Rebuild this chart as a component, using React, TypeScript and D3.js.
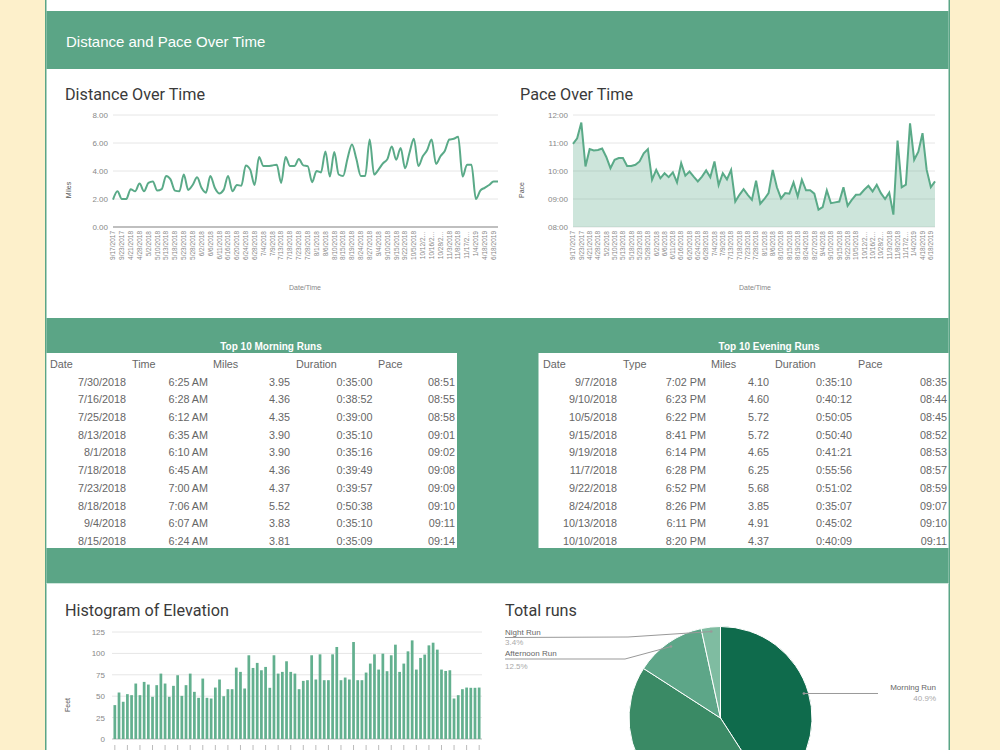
import * as d3 from "d3";

// ---- data ----
const runDates = [
  "9/17/2017", "9/19/2017", "9/23/2017", "10/1/2017", "4/21/2018", "4/24/2018", "4/28/2018", "4/30/2018",
  "5/2/2018", "5/6/2018", "5/10/2018", "5/11/2018", "5/13/2018", "5/16/2018", "5/18/2018", "5/20/2018",
  "5/23/2018", "5/25/2018", "5/28/2018", "5/30/2018", "6/2/2018", "6/4/2018", "6/6/2018", "6/9/2018",
  "6/11/2018", "6/13/2018", "6/16/2018", "6/18/2018", "6/20/2018", "6/22/2018", "6/24/2018", "6/26/2018",
  "6/28/2018", "7/2/2018", "7/4/2018", "7/6/2018", "7/9/2018", "7/11/2018", "7/13/2018", "7/16/2018",
  "7/18/2018", "7/20/2018", "7/23/2018", "7/25/2018", "7/28/2018", "7/30/2018", "8/1/2018", "8/3/2018",
  "8/6/2018", "8/8/2018", "8/10/2018", "8/13/2018", "8/15/2018", "8/18/2018", "8/19/2018", "8/22/2018",
  "8/24/2018", "8/26/2018", "8/27/2018", "9/1/2018", "9/4/2018", "9/7/2018", "9/10/2018", "9/12/2018",
  "9/15/2018", "9/19/2018", "9/22/2018", "9/29/2018", "10/5/2018", "10/10/2018", "10/12/2018", "10/13/2018",
  "10/16/2018", "10/21/2018", "10/28/2018", "10/31/2018", "11/3/2018", "11/7/2018", "11/8/2018", "11/11/2018",
  "11/17/2018", "12/1/2018", "1/4/2019", "3/2/2019", "4/18/2019", "5/20/2019", "6/18/2019", "8/17/2019",
];

const distanceMiles = [
  1.95, 2.55, 2.0, 2.0, 2.7, 2.55, 3.1, 2.55, 3.15, 3.25, 2.6, 2.7, 3.65, 3.4, 2.6, 2.55,
  3.75, 2.65, 3.0, 3.55, 2.8, 2.45, 3.65, 2.8, 2.4, 2.65, 3.65, 2.55, 3.0, 2.95, 4.4, 4.1,
  3.0, 5.0, 4.35, 4.35, 4.4, 4.45, 3.15, 5.0, 4.35, 4.35, 4.85, 4.4, 4.35, 3.2, 4.0, 3.9,
  5.4, 3.6, 5.35, 3.75, 3.65, 4.9, 5.9, 4.85, 3.65, 3.65, 6.25, 3.75, 4.1, 4.55, 4.85, 5.75,
  4.8, 5.65, 4.2, 5.3, 6.3, 4.35, 5.05, 5.5, 6.25, 4.5, 5.05, 5.45, 6.25, 6.3, 6.45, 3.6,
  4.45, 4.45, 2.0, 2.6, 2.8, 3.0, 3.25, 3.25,
];

// minutes per mile
const paceMinutes = [
  10.97, 11.17, 11.73, 10.16, 10.78, 10.73, 10.75, 10.8, 10.5, 10.1, 10.4, 10.46, 10.46, 10.18, 10.18, 10.22,
  10.34, 10.63, 10.78, 9.69, 10.04, 9.74, 9.92, 9.78, 9.95, 9.59, 10.28, 9.83, 9.98, 9.8, 9.63, 9.8,
  10.02, 9.78, 10.34, 9.5, 9.92, 9.7, 10.04, 8.91, 9.15, 9.35, 9.15, 8.97, 9.65, 8.83, 9.0, 9.21,
  10.04, 9.42, 9.02, 9.21, 9.19, 9.59, 9.09, 9.69, 9.31, 9.31, 9.19, 8.62, 8.71, 9.31, 8.85, 8.88,
  8.91, 9.42, 8.76, 8.97, 9.15, 9.16, 9.33, 9.47, 9.27, 9.51, 9.21, 9.0, 9.23, 8.44, 11.09, 9.42,
  9.51, 11.7, 10.4, 10.69, 11.35, 10.04, 9.42, 9.63,
];

const elevationFeet = [
  39.6, 54.3, 43.5, 52.4, 51.2, 64.8, 51.2, 66.7, 63.6, 49.3, 62.9, 76.4, 64.8, 49.3, 62.1, 74.5,
  50.4, 62.9, 76.4, 55.1, 48.1, 70.6, 48.1, 47.3, 60.1, 69.5, 50.0, 58.2, 58.2, 83.4, 78.4, 59.0,
  97.8, 83.0, 88.9, 80.3, 84.2, 59.8, 97.8, 76.4, 78.4, 90.8, 78.4, 76.4, 58.2, 67.9, 68.7, 97.8,
  69.5, 98.9, 68.7, 68.7, 98.9, 107.5, 68.7, 71.8, 69.5, 113.3, 68.7, 68.7, 77.6, 88.1, 98.9, 81.1,
  99.7, 79.2, 97.8, 110.2, 78.4, 88.1, 102.4, 115.2, 81.1, 94.7, 98.6, 109.4, 112.5, 104.4, 81.1, 79.5,
  80.3, 47.3, 51.2, 58.2, 60.1, 59.8, 59.8, 60.1,
];

const distanceTicks = [0, 2, 4, 6, 8];
const paceTicks = [8, 9, 10, 11, 12];
const elevationTicks = [0, 25, 50, 75, 100, 125];

const morningHeader = ["Date", "Time", "Miles", "Duration", "Pace"];
const morningRuns = [
  ["7/30/2018", "6:25 AM", "3.95", "0:35:00", "08:51"],
  ["7/16/2018", "6:28 AM", "4.36", "0:38:52", "08:55"],
  ["7/25/2018", "6:12 AM", "4.35", "0:39:00", "08:58"],
  ["8/13/2018", "6:35 AM", "3.90", "0:35:10", "09:01"],
  ["8/1/2018", "6:10 AM", "3.90", "0:35:16", "09:02"],
  ["7/18/2018", "6:45 AM", "4.36", "0:39:49", "09:08"],
  ["7/23/2018", "7:00 AM", "4.37", "0:39:57", "09:09"],
  ["8/18/2018", "7:06 AM", "5.52", "0:50:38", "09:10"],
  ["9/4/2018", "6:07 AM", "3.83", "0:35:10", "09:11"],
  ["8/15/2018", "6:24 AM", "3.81", "0:35:09", "09:14"],
];

const eveningHeader = ["Date", "Type", "Miles", "Duration", "Pace"];
const eveningRuns = [
  ["9/7/2018", "7:02 PM", "4.10", "0:35:10", "08:35"],
  ["9/10/2018", "6:23 PM", "4.60", "0:40:12", "08:44"],
  ["10/5/2018", "6:22 PM", "5.72", "0:50:05", "08:45"],
  ["9/15/2018", "8:41 PM", "5.72", "0:50:40", "08:52"],
  ["9/19/2018", "6:14 PM", "4.65", "0:41:21", "08:53"],
  ["11/7/2018", "6:28 PM", "6.25", "0:55:56", "08:57"],
  ["9/22/2018", "6:52 PM", "5.68", "0:51:02", "08:59"],
  ["8/24/2018", "8:26 PM", "3.85", "0:35:07", "09:07"],
  ["10/13/2018", "6:11 PM", "4.91", "0:45:02", "09:10"],
  ["10/10/2018", "8:20 PM", "4.37", "0:40:09", "09:11"],
];

const runTypes = ["Morning Run", "Evening Run", "Afternoon Run", "Night Run"];
const runShares = [40.9, 43.2, 12.5, 3.4];
const runColors = ["#0f6b4c", "#3a8a65", "#5da688", "#7fbca1"];

// ---- styling ----
const GREEN = "#5ba586";
const CREAM = "#fdf0cb";
const LINE = "#5aaa88";
const GRID = "#e6e6e6";
const AXIS_TXT = "#888";
const SANS = "'Liberation Sans', Arial, sans-serif";
const TITLE_FONT = "Roboto, 'Noto Sans', sans-serif";

const shortLabel = (s: string) => (s.length > 9 ? s.slice(0, 7) + "…" : s);
const fmtPace = (m: number) => d3.format("02d")(Math.floor(m)) + ":00";

function DateAxis({ x, y0 }: { x: (i: number) => number; y0: number }) {
  return (
    <g fontFamily={SANS} fontSize={6.5} fill={AXIS_TXT}>
      {runDates.map((d, i) =>
        i % 2 === 0 ? (
          <text key={i} transform={`translate(${x(i) + 2.3},${y0}) rotate(-90)`} textAnchor="end">
            {shortLabel(d)}
          </text>
        ) : null
      )}
    </g>
  );
}

function DistanceChart() {
  const x = d3.scalePoint<number>().domain(d3.range(runDates.length)).range([113, 498]);
  const y = d3.scaleLinear().domain([0, 8]).range([227, 115]);
  const line = d3
    .line<number>()
    .x((_, i) => x(i)!)
    .y((d) => y(d))
    .curve(d3.curveMonotoneX);
  return (
    <g>
      <text x={65} y={100} fontFamily={TITLE_FONT} fontSize={16.2} fill="#3a3a3a">Distance Over Time</text>
      {distanceTicks.map((t) => (
        <g key={t}>
          <line x1={113} x2={498} y1={y(t)} y2={y(t)} stroke={t === 0 ? "#aaa" : GRID} strokeWidth={t === 0 ? 1.5 : 1} />
          <text x={108} y={y(t) + 3} textAnchor="end" fontFamily={SANS} fontSize={8} fill={AXIS_TXT}>
            {d3.format(".2f")(t)}
          </text>
        </g>
      ))}
      <path d={line(distanceMiles) ?? ""} fill="none" stroke={LINE} strokeWidth={2} />
      <DateAxis x={(i) => x(i)!} y0={231} />
      <text transform="translate(71,190) rotate(-90)" textAnchor="middle" fontFamily={SANS} fontSize={7} fill="#555">Miles</text>
      <text x={305} y={290} textAnchor="middle" fontFamily={SANS} fontSize={7} fill={AXIS_TXT}>Date/Time</text>
    </g>
  );
}

function PaceChart() {
  const x = d3.scalePoint<number>().domain(d3.range(runDates.length)).range([573, 935]);
  const y = d3.scaleLinear().domain([8, 12]).range([227, 115]);
  const line = d3.line<number>().x((_, i) => x(i)!).y((d) => y(d));
  const area = d3
    .area<number>()
    .x((_, i) => x(i)!)
    .y0(y(8))
    .y1((d) => y(d));
  return (
    <g>
      <text x={520} y={100} fontFamily={TITLE_FONT} fontSize={16.2} fill="#3a3a3a">Pace Over Time</text>
      {paceTicks.map((t) => (
        <g key={t}>
          <line x1={573} x2={935} y1={y(t)} y2={y(t)} stroke={GRID} />
          <text x={568} y={y(t) + 3} textAnchor="end" fontFamily={SANS} fontSize={8} fill={AXIS_TXT}>
            {fmtPace(t)}
          </text>
        </g>
      ))}
      <path d={area(paceMinutes) ?? ""} fill={LINE} fillOpacity={0.3} />
      <path d={line(paceMinutes) ?? ""} fill="none" stroke={LINE} strokeWidth={2} />
      <DateAxis x={(i) => x(i)!} y0={231} />
      <text transform="translate(524,190) rotate(-90)" textAnchor="middle" fontFamily={SANS} fontSize={7} fill="#555">Pace</text>
      <text x={755} y={290} textAnchor="middle" fontFamily={SANS} fontSize={7} fill={AXIS_TXT}>Date/Time</text>
    </g>
  );
}

function RunTable({
  title, titleX, header, rows, left, right, headX, valX,
}: {
  title: string; titleX: number; header: string[]; rows: string[][]; left: number; right: number; headX: number[]; valX: number[];
}) {
  const rowY = d3.scaleLinear().domain([0, 9]).range([385.5, 545]);
  return (
    <g fontFamily={SANS}>
      <text x={titleX} y={349.5} textAnchor="middle" fontSize={10} fontWeight="bold" fill="#fff">{title}</text>
      <rect x={left} y={353} width={right - left} height={195} fill="#fff" />
      {header.map((h, i) => (
        <text key={h} x={headX[i]} y={367.5} fontSize={10.8} fill="#666">{h}</text>
      ))}
      {rows.map((r, ri) =>
        r.map((c, ci) => (
          <text key={ri + "-" + ci} x={valX[ci]} y={rowY(ri)} textAnchor="end" fontSize={10.8} fill="#666">{c}</text>
        ))
      )}
    </g>
  );
}

function ElevationChart() {
  const x = d3.scaleBand<number>().domain(d3.range(elevationFeet.length)).range([112, 482]).padding(0.35);
  const y = d3.scaleLinear().domain([0, 125]).range([739, 632]);
  return (
    <g>
      <text x={65} y={616} fontFamily={TITLE_FONT} fontSize={16.2} fill="#3a3a3a">Histogram of Elevation</text>
      {elevationTicks.map((t) => (
        <g key={t}>
          <line x1={112} x2={482} y1={y(t)} y2={y(t)} stroke={t === 0 ? "#bbb" : GRID} />
          <text x={105} y={y(t) + 3} textAnchor="end" fontFamily={SANS} fontSize={8} fill={AXIS_TXT}>{t}</text>
        </g>
      ))}
      {elevationFeet.map((v, i) => (
        <rect key={i} x={x(i)} y={y(v)} width={x.bandwidth()} height={y(0) - y(v)} fill="#63b08f" />
      ))}
      {elevationFeet.map((_, i) =>
        i % 3 === 0 ? (
          <rect key={"t" + i} x={x(i)! + x.bandwidth() / 2 - 0.5} y={745} width={1} height={5} fill="#bbb" />
        ) : null
      )}
      <text transform="translate(70,705) rotate(-90)" textAnchor="middle" fontFamily={SANS} fontSize={7} fill="#555">Feet</text>
    </g>
  );
}

function RunsPie() {
  const cx = 720.5;
  const cy = 718;
  const r = 91.5;
  const arcs = d3.pie<number>().sort(null).value((d) => d)(runShares);
  const arc = d3.arc<d3.PieArcDatum<number>>().innerRadius(0).outerRadius(r);
  const anchor = (a: d3.PieArcDatum<number>) => {
    const m = (a.startAngle + a.endAngle) / 2;
    return [cx + r * 0.95 * Math.sin(m), cy - r * 0.95 * Math.cos(m)];
  };
  const [mx, my] = anchor(arcs[0]);
  const [ax, ay] = anchor(arcs[2]);
  const [nx, ny] = anchor(arcs[3]);
  return (
    <g>
      <text x={505} y={616} fontFamily={TITLE_FONT} fontSize={16.2} fill="#3a3a3a">Total runs</text>
      <g transform={`translate(${cx},${cy})`}>
        {arcs.map((a, i) => (
          <path key={runTypes[i]} d={arc(a) ?? ""} fill={runColors[i]} stroke="#fff" strokeWidth={1} />
        ))}
      </g>
      <g fill="none" stroke="#999" strokeWidth={1}>
        <polyline points={`${mx},${my} 878,${my}`} />
        <polyline points={`505,659 625,659 ${ax},${ay}`} />
        <polyline points={`505,637.5 628,637 ${nx},${ny}`} />
      </g>
      <g fill="#999">
        <circle cx={mx} cy={my} r={1.3} />
        <circle cx={ax} cy={ay} r={1.3} />
        <circle cx={nx} cy={ny} r={1.3} />
      </g>
      <g fontFamily={SANS} fontSize={8}>
        <text x={936} y={690} textAnchor="end" fill="#666">{runTypes[0]}</text>
        <text x={936} y={700.5} textAnchor="end" fill="#aaa">{runShares[0]}%</text>
        <text x={505} y={635} fill="#666">{runTypes[3]}</text>
        <text x={505} y={645} fill="#aaa">{runShares[3]}%</text>
        <text x={505} y={656} fill="#666">{runTypes[2]}</text>
        <text x={505} y={669} fill="#aaa">{runShares[2]}%</text>
      </g>
    </g>
  );
}

export default function App() {
  return (
    <svg
      width={1000}
      height={750}
      viewBox="0 0 1000 750"
      style={{ position: "absolute", left: 0, top: 0, display: "block" }}
    >
      <rect width={1000} height={750} fill={CREAM} />
      <rect x={45.75} y={-2} width={903.5} height={760} fill="#fff" stroke={GREEN} strokeWidth={1.5} />
      <rect x={46.5} y={11} width={902} height={58} fill={GREEN} />
      <text x={66} y={47} fontFamily={SANS} fontSize={15} fill="#fff">Distance and Pace Over Time</text>
      <DistanceChart />
      <PaceChart />
      <rect x={46.5} y={318} width={902} height={265} fill={GREEN} />
      <RunTable
        title="Top 10 Morning Runs"
        titleX={271}
        header={morningHeader}
        rows={morningRuns}
        left={46.5}
        right={457}
        headX={[50, 132, 213, 296, 378]}
        valX={[126, 208, 290, 372.5, 455]}
      />
      <RunTable
        title="Top 10 Evening Runs"
        titleX={769}
        header={eveningHeader}
        rows={eveningRuns}
        left={538.5}
        right={948.5}
        headX={[543, 623, 711, 775, 858]}
        valX={[617, 706, 769, 852, 947]}
      />
      <line x1={46.5} x2={948.5} y1={583.5} y2={583.5} stroke="#cfe6dc" />
      <ElevationChart />
      <RunsPie />
    </svg>
  );
}
